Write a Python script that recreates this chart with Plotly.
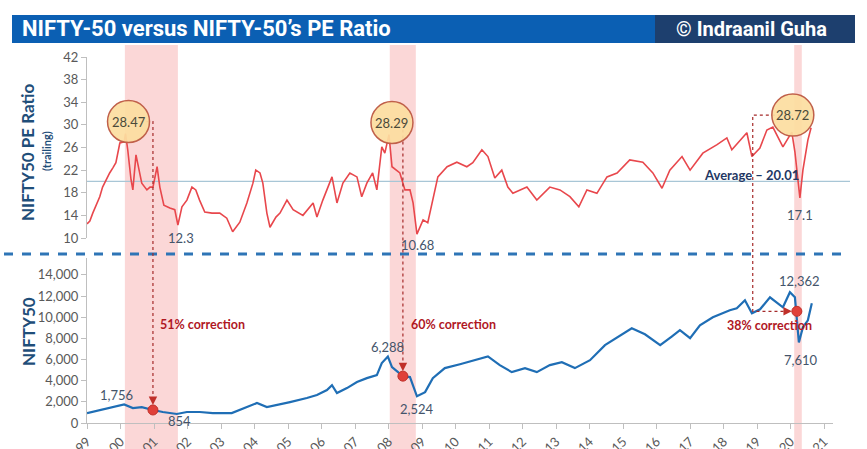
import plotly.graph_objects as go
import pandas as pd

# ---------------- data ----------------
pe_dates = ["1999-01-01","1999-02-01","1999-03-05","1999-04-18","1999-05-20","1999-06-20","1999-08-05","1999-09-05","1999-10-10","1999-11-12","1999-12-25","2000-02-10","2000-02-25","2000-03-20","2000-04-25","2000-05-15","2000-06-18","2000-07-18","2000-08-20","2000-10-15","2000-11-18","2000-12-20","2001-02-03","2001-03-05","2001-04-18","2001-06-22","2001-08-15","2001-09-18","2001-11-01","2001-12-25","2002-02-18","2002-04-01","2002-05-12","2002-07-08","2002-09-25","2002-12-18","2003-03-05","2003-05-08","2003-07-25","2003-10-10","2003-12-15","2004-01-15","2004-03-01","2004-04-01","2004-05-15","2004-06-18","2004-08-22","2004-10-05","2004-12-20","2005-02-25","2005-06-12","2005-10-01","2005-11-12","2006-01-15","2006-04-25","2006-06-18","2006-08-22","2006-11-06","2007-01-22","2007-03-15","2007-05-10","2007-07-12","2007-08-27","2007-10-20","2007-11-22","2008-01-06","2008-02-08","2008-05-04","2008-06-28","2008-08-22","2008-09-25","2008-11-06","2009-01-12","2009-03-04","2009-04-28","2009-06-22","2009-10-01","2010-01-15","2010-05-04","2010-07-08","2010-10-15","2010-12-20","2011-03-05","2011-05-20","2011-07-25","2011-09-18","2012-02-18","2012-06-05","2012-10-25","2013-02-12","2013-06-01","2013-09-06","2013-12-03","2014-03-22","2014-07-10","2014-10-28","2015-03-15","2015-08-05","2015-11-22","2016-03-01","2016-05-25","2016-10-05","2017-01-01","2017-05-20","2017-10-22","2018-02-06","2018-04-01","2018-06-28","2018-09-12","2018-11-06","2019-02-01","2019-04-18","2019-06-22","2019-10-10","2020-01-15","2020-02-18","2020-04-12","2020-05-15","2020-07-08","2020-08-12"]
pe_values = [12.5,13.0,14.4,16.2,17.3,19.0,20.6,21.5,22.4,23.3,26.8,27.0,28.47,25.6,20.3,18.5,24.7,22.6,19.7,18.5,19.0,19.0,22.6,19.0,15.8,15.3,15.0,12.3,15.5,16.7,19.0,18.5,16.7,14.6,14.4,14.4,13.5,11.1,12.8,16.2,19.7,22.0,21.5,19.7,14.4,11.9,13.7,14.4,16.7,15.0,14.0,16.2,13.7,16.7,20.8,16.2,19.7,21.5,20.8,17.3,19.7,21.5,18.5,26.1,25.0,28.29,22.6,21.5,18.5,18.5,16.2,10.68,13.2,12.7,16.7,20.8,22.6,23.4,22.6,23.3,25.6,24.4,20.6,22.0,19.0,17.9,19.0,16.7,19.0,18.5,17.3,15.5,18.5,17.9,20.8,21.5,23.8,23.4,21.5,18.8,22.0,24.4,22.0,25.0,26.5,27.7,25.6,27.3,28.6,24.4,25.9,29.1,29.6,26.1,28.72,25.2,17.1,22.0,27.3,29.5]

nifty_dates = ["1999-01-01","1999-05-20","1999-11-01","2000-02-10","2000-05-15","2000-08-20","2000-12-20","2001-04-06","2001-09-06","2001-12-25","2002-05-15","2002-10-03","2003-04-28","2003-10-10","2004-01-28","2004-05-15","2004-09-03","2005-01-22","2005-07-25","2005-11-12","2006-03-01","2006-04-25","2006-06-18","2006-10-05","2007-01-22","2007-05-10","2007-08-27","2007-10-20","2007-12-25","2008-02-08","2008-06-06","2008-08-22","2008-11-06","2009-02-03","2009-04-28","2009-09-06","2010-02-18","2010-08-01","2010-12-20","2011-04-28","2011-09-06","2012-01-28","2012-06-05","2012-10-25","2013-03-05","2013-07-25","2014-01-06","2014-06-18","2014-11-28","2015-04-06","2015-08-28","2016-02-10","2016-06-18","2016-09-12","2017-01-01","2017-04-18","2017-09-06","2018-03-10","2018-05-25","2018-08-22","2018-11-06","2019-02-03","2019-05-22","2019-08-06","2019-10-10","2019-12-25","2020-02-18","2020-04-01","2020-05-15","2020-07-08","2020-08-20"]
nifty_values = [940,1230,1550,1756,1410,1500,1230,1040,854,1040,1040,940,940,1500,1890,1500,1700,1980,2360,2640,3110,3580,2830,3300,3870,4240,4530,5660,6288,5280,4430,4340,2524,2920,4240,5190,5560,5940,6300,5470,4810,5190,4810,5470,5750,5190,5940,7360,8300,8960,8390,7360,8200,8770,8020,9240,10000,10660,10840,11600,10370,10750,11880,11410,10940,12362,11880,7610,9050,9710,11320]

pe_average = 20.01
peak_dates = ["2000-02-25", "2008-01-06", "2020-01-15"]
peak_values = [28.47, 28.29, 28.72]
pe_low_dates = ["2001-09-18", "2008-11-06", "2020-04-12"]
pe_low_values = [12.3, 10.68, 17.1]
nifty_high_dates = ["2000-02-10", "2007-12-25", "2019-12-25"]
nifty_high_values = [1756, 6288, 12362]
nifty_low_dates = ["2001-09-06", "2008-11-06", "2020-04-01"]
nifty_low_values = [854, 2524, 7610]
crisis_start = ["2000-02-18", "2008-01-15", "2020-02-10"]
crisis_end = ["2001-09-18", "2008-10-25", "2020-05-03"]
connector_dates = ["2000-12-20", "2008-06-06", "2018-11-15"]
marker_dates = ["2000-12-20", "2008-06-06", "2020-03-10"]
marker_values = [1230, 4430, 10560]
correction_labels = ["51% correction", "60% correction", "38% correction"]

assert len(pe_dates) == len(pe_values)
assert len(nifty_dates) == len(nifty_values)

# ---------------- layout geometry ----------------
W_FIG, H_FIG = 867, 449
ML, MR, MT, MB = 87, 34, 0, 26
W = W_FIG - ML - MR
H = H_FIG - MT - MB
X_START, X_END = pd.Timestamp("1999-01-01"), pd.Timestamp("2021-04-08")
SPAN = (X_END - X_START).days
TOP_DOM = [(H - 238) / H, (H - 57) / H]
TOP_RNG = [10, 42]
BOT_DOM = [0, (H - 258) / H]
BOT_RNG = [0, 15600]


def xp(d):
    return (pd.Timestamp(d) - X_START).days / SPAN


def yp(axis, v):
    dom, rng = (TOP_DOM, TOP_RNG) if axis == "top" else (BOT_DOM, BOT_RNG)
    return dom[0] + (v - rng[0]) / (rng[1] - rng[0]) * (dom[1] - dom[0])


def px_x(p):
    return p / W


def px_y(p):
    return p / H


TICK_FONT = dict(family="Lato, Open Sans, sans-serif", size=13, color="#595959")
NAVY = "#1f4e79"
DARKRED = "#b0171f"
LABEL_GREY = "#44546a"

fig = go.Figure()

fig.add_trace(go.Scatter(x=pe_dates, y=pe_values, mode="lines", xaxis="x", yaxis="y",
                         line=dict(color="#e8474c", width=1.6), hoverinfo="skip", showlegend=False))
fig.add_trace(go.Scatter(x=nifty_dates, y=nifty_values, mode="lines", xaxis="x", yaxis="y2",
                         line=dict(color="#1f6eb5", width=2.2), hoverinfo="skip", showlegend=False))
fig.add_trace(go.Scatter(x=marker_dates, y=marker_values, mode="markers", xaxis="x", yaxis="y2",
                         marker=dict(size=10, color="#e0403a", line=dict(color="#c0302a", width=1)),
                         hoverinfo="skip", showlegend=False))

shapes = []
# crisis bands
for s, e in zip(crisis_start, crisis_end):
    shapes.append(dict(type="rect", xref="paper", yref="paper", x0=xp(s), x1=xp(e),
                       y0=px_y(H - 449), y1=px_y(H - 45), fillcolor="rgba(244,150,150,0.38)",
                       line=dict(width=0), layer="below"))
# average line
shapes.append(dict(type="line", xref="paper", yref="y", x0=0, x1=px_x(850 - ML), y0=pe_average,
                   y1=pe_average, line=dict(color="#a8c6d6", width=1.2), layer="below"))
# separator
shapes.append(dict(type="line", xref="paper", yref="paper", x0=px_x(4 - ML), x1=px_x(850 - ML),
                   y0=px_y(H - 254), y1=px_y(H - 254), line=dict(color="#2e75b6", width=3, dash="dash")))
# title bar
shapes.append(dict(type="rect", xref="paper", yref="paper", x0=px_x(12 - ML), x1=px_x(655 - ML),
                   y0=px_y(H - 43), y1=px_y(H - 15), fillcolor="#0b5fb3", line=dict(width=0)))
shapes.append(dict(type="rect", xref="paper", yref="paper", x0=px_x(655 - ML), x1=px_x(855 - ML),
                   y0=px_y(H - 43), y1=px_y(H - 15), fillcolor="#1d3f6e", line=dict(width=0)))

R = 21
circ_dx = [3, 3, 1]
circ_dy = [12, 12, 17]
conn_style = dict(color="#a52a2a", width=1.2, dash="dot")
for i in range(3):
    cx = xp(peak_dates[i]) + px_x(circ_dx[i])
    cy = yp("top", peak_values[i]) + px_y(circ_dy[i])
    kx = xp(connector_dates[i])
    if i < 2:
        path = f"M {cx},{cy} L {kx},{cy} L {kx},{yp('bot', marker_values[i]) + px_y(8)}"
    else:
        my = yp("bot", marker_values[i])
        path = f"M {cx},{cy} L {kx},{cy} L {kx},{my} L {xp(marker_dates[i]) - px_x(8)},{my}"
    shapes.append(dict(type="path", xref="paper", yref="paper", path=path, line=conn_style))
for i in range(3):
    cx = xp(peak_dates[i]) + px_x(circ_dx[i])
    cy = yp("top", peak_values[i]) + px_y(circ_dy[i])
    shapes.append(dict(type="circle", xref="paper", yref="paper",
                       x0=cx - px_x(R), x1=cx + px_x(R), y0=cy - px_y(R), y1=cy + px_y(R),
                       fillcolor="rgba(252,222,160,0.93)", line=dict(color="#c0604a", width=1.5)))

ann = []
# title texts
ann.append(dict(text="<b>NIFTY-50 versus NIFTY-50’s PE Ratio</b>", xref="paper", yref="paper",
                x=px_x(20 - ML), y=px_y(H - 29), xanchor="left", yanchor="middle", showarrow=False,
                font=dict(family="Roboto, sans-serif", size=22, color="white")))
ann.append(dict(text="<b>© Indraanil Guha</b>", xref="paper", yref="paper",
                x=px_x(829 - ML), y=px_y(H - 29), xanchor="right", yanchor="middle", showarrow=False,
                font=dict(family="Roboto, sans-serif", size=20, color="white")))
# axis titles
ann.append(dict(text="<b>NIFTY50 PE Ratio</b>", xref="paper", yref="paper", x=px_x(28 - ML),
                y=px_y(H - 152), xanchor="center", yanchor="middle", textangle=-90, showarrow=False,
                font=dict(family="Lato, sans-serif", size=17, color=NAVY)))
ann.append(dict(text="<b>(trailing)</b>", xref="paper", yref="paper", x=px_x(47 - ML),
                y=px_y(H - 151), xanchor="center", yanchor="middle", textangle=-90, showarrow=False,
                font=dict(family="Lato, sans-serif", size=11, color=NAVY)))
ann.append(dict(text="<b>NIFTY50</b>", xref="paper", yref="paper", x=px_x(28 - ML),
                y=px_y(H - 332), xanchor="center", yanchor="middle", textangle=-90, showarrow=False,
                font=dict(family="Lato, sans-serif", size=17, color=NAVY)))
# circle texts
for i in range(3):
    ann.append(dict(text=f"{peak_values[i]:.2f}", xref="paper", yref="paper",
                    x=xp(peak_dates[i]) + px_x(circ_dx[i]), y=yp("top", peak_values[i]) + px_y(circ_dy[i]),
                    xanchor="center", yanchor="middle", showarrow=False,
                    font=dict(family="Lato, sans-serif", size=13, color="#4a4a3a")))
# PE lows
pe_low_off = [(3, -3), (1, -1), (0, -7)]
for d, v, (dx, dy) in zip(pe_low_dates, pe_low_values, pe_low_off):
    ann.append(dict(text=f"{v:g}", x=d, y=v, xref="x", yref="y", xshift=dx, yshift=dy,
                    xanchor="center", yanchor="top", showarrow=False,
                    font=dict(family="Lato, sans-serif", size=13, color=LABEL_GREY)))
# NIFTY highs and lows
hi_off = [(-8, -1), (0, -1), (10, 1)]
for d, v, (dx, dy) in zip(nifty_high_dates, nifty_high_values, hi_off):
    ann.append(dict(text=f"{v:,}", x=d, y=v, xref="x", yref="y2", xshift=dx, yshift=dy,
                    xanchor="center", yanchor="bottom", showarrow=False,
                    font=dict(family="Lato, sans-serif", size=13, color=LABEL_GREY)))
lo_off = [(3, 3), (0, -3), (2, -7)]
for d, v, (dx, dy) in zip(nifty_low_dates, nifty_low_values, lo_off):
    ann.append(dict(text=f"{v:,}", x=d, y=v, xref="x", yref="y2", xshift=dx, yshift=dy,
                    xanchor="center", yanchor="top", showarrow=False,
                    font=dict(family="Lato, sans-serif", size=13, color=LABEL_GREY)))
# average label
ann.append(dict(text=f"<b>Average – {pe_average:.2f}</b>", x="2018-11-06", y=pe_average, xref="x", yref="y",
                xanchor="center", yanchor="bottom", yshift=-4, showarrow=False,
                font=dict(family="Lato, sans-serif", size=13, color="#1f3864")))
# correction labels
corr_pos = [(5, "left"), (6, "left"), (-27, "center")]
corr_y = [9340, 9340, 9240]
for i in range(3):
    dx, anc = corr_pos[i]
    ann.append(dict(text=f"<b>{correction_labels[i]}</b>", x=marker_dates[i], y=corr_y[i], xref="x", yref="y2",
                    xshift=dx, xanchor=anc, yanchor="middle", showarrow=False,
                    font=dict(family="Lato, sans-serif", size=12.5, color=DARKRED)))
# arrowheads
for i in range(3):
    ax, ay = (0, -14) if i < 2 else (-14, 0)
    ann.append(dict(text="", x=marker_dates[i], y=marker_values[i], xref="x", yref="y2",
                    showarrow=True, ax=ax, ay=ay, arrowhead=2, arrowsize=1.3, arrowwidth=1.3,
                    arrowcolor="#c0302a", standoff=5))

fig.update_layout(
    width=W_FIG, height=H_FIG,
    margin=dict(l=ML, r=MR, t=MT, b=MB, autoexpand=False),
    paper_bgcolor="white", plot_bgcolor="white",
    showlegend=False,
    xaxis=dict(type="date", range=[X_START, X_END], anchor="y2", domain=[0, 1],
               tickformat="%b-%y", dtick="M12", tick0="1999-01-01", tickangle=-45,
               showgrid=False, zeroline=False, showline=True, linecolor="#bfbfbf", linewidth=1,
               ticks="outside", ticklen=5, tickcolor="#bfbfbf", tickfont=TICK_FONT, automargin=False),
    yaxis=dict(domain=TOP_DOM, range=TOP_RNG, anchor="x", dtick=4, tick0=10,
               showgrid=False, zeroline=False, showline=True, linecolor="#bfbfbf", linewidth=1,
               ticks="outside", ticklen=5, tickcolor="#bfbfbf", tickfont=TICK_FONT, automargin=False),
    yaxis2=dict(domain=BOT_DOM, range=BOT_RNG, anchor="x", tickvals=list(range(0, 14001, 2000)),
                tickformat=",", showgrid=False, zeroline=False, showline=True, linecolor="#bfbfbf",
                linewidth=1, ticks="outside", ticklen=5, tickcolor="#bfbfbf", tickfont=TICK_FONT,
                automargin=False),
    shapes=shapes,
    annotations=ann,
)

fig.write_html("out.html")
